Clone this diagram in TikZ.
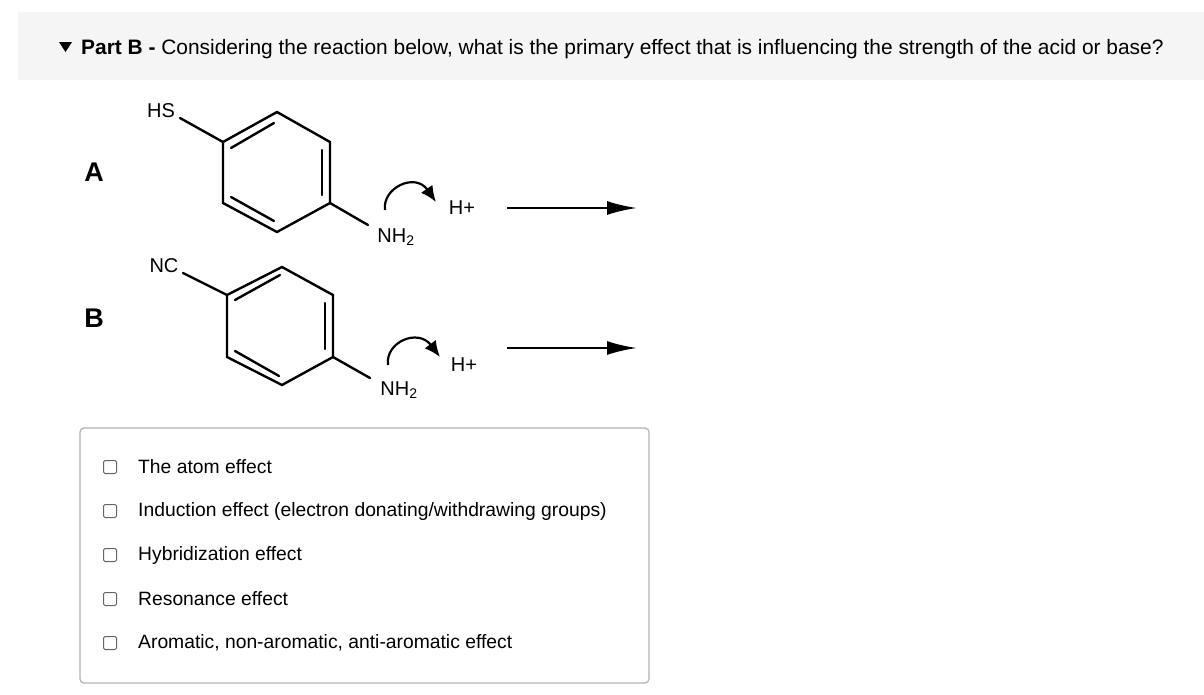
\documentclass[tikz,border=0pt]{standalone}
\usepackage{fontspec}
\setmainfont{Liberation Sans}
\usetikzlibrary{arrows.meta}
\begin{document}
\begin{tikzpicture}[x=1pt,y=-1pt,
  bond/.style={line width=2.4pt,line cap=round},
  lbl/.style={inner sep=0pt,font=\fontsize{20}{20}\selectfont},
  opt/.style={anchor=west,inner sep=0pt,font=\fontsize{19.3}{21}\selectfont},
  cbox/.style={draw=black!60,rounded corners=1.5pt,line width=1pt,minimum size=13pt,inner sep=0pt},
  rxn/.style={line width=2.4pt,-{Latex[length=30pt,width=14pt]}},
  curv/.style={line width=2.2pt,-{Latex[length=16pt,width=14pt]}}]
\useasboundingbox (0,0) rectangle (1204,694);
\fill[white] (0,0) rectangle (1204,694);
\fill[black!4] (18,12) rectangle (1204,80);
\fill (59,42) -- (72,42) -- (65.5,52) -- cycle;
\node[anchor=west,inner sep=0pt,font=\fontsize{20.9}{22}\selectfont] (hdr) at (81,49) {\textbf{Part B -} Considering the reaction below, what is the primary effect that is influencing the strength of the acid or base?};
\node[font=\fontsize{27}{27}\selectfont\bfseries,inner sep=0pt] (A) at (94,172) {A};
\node[font=\fontsize{27}{27}\selectfont\bfseries,inner sep=0pt] (B) at (94,318) {B};
% ring A
\coordinate (a1) at (277,112); \coordinate (a2) at (330,142); \coordinate (a3) at (330,203);
\coordinate (a4) at (277,232); \coordinate (a5) at (223,203); \coordinate (a6) at (223,142);
\draw[bond] (a1)--(a2)--(a3)--(a4)--(a5)--(a6)--cycle;
\draw[bond] (231,148) -- (274,123);
\draw[bond] (322,150) -- (322,195);
\draw[bond] (231,197) -- (274,221);
\draw[bond] (180,118) -- (a6);
\draw[bond] (a3) -- (368,225);
\node[lbl] (hs) at (161,111) {HS};
\node[lbl] (nha) at (396,237) {NH\textsubscript{2}};
\draw[curv] (385,210) .. controls (382,188) and (415,172) .. (436,202);
\node[lbl] (hpa) at (462,208) {H+};
\coordinate (ra1) at (507,208); \coordinate (ra2) at (637,208);
\draw[rxn] (ra1) -- (ra2);
% ring B
\coordinate (b1) at (282,267); \coordinate (b2) at (333,295); \coordinate (b3) at (333,357);
\coordinate (b4) at (282,385); \coordinate (b5) at (227,357); \coordinate (b6) at (227,295);
\draw[bond] (b1)--(b2)--(b3)--(b4)--(b5)--(b6)--cycle;
\draw[bond] (235,300) -- (280,275);
\draw[bond] (325,303) -- (325,349);
\draw[bond] (235,351) -- (279,376);
\draw[bond] (183,273) -- (b6);
\draw[bond] (b3) -- (370,378);
\node[lbl] (nc) at (164,266) {NC};
\node[lbl] (nhb) at (399,390) {NH\textsubscript{2}};
\draw[curv] (388,365) .. controls (385,342) and (418,328) .. (440,357);
\node[lbl] (hpb) at (464,365) {H+};
\coordinate (rb1) at (507,348); \coordinate (rb2) at (637,348);
\draw[rxn] (rb1) -- (rb2);
% options box
\draw[black!30,line width=1.2pt,rounded corners=4pt] (80,428) rectangle (649,683);
\foreach \y/\t/\n in {467/{The atom effect}/o1, 511/{Induction effect (electron donating/withdrawing groups)}/o2, 555/{Hybridization effect}/o3, 599/{Resonance effect}/o4, 643/{Aromatic, non-aromatic, anti-aromatic effect}/o5}{
  \node[cbox] (c\n) at (110,\y) {};
  \node[opt] (\n) at (138,\y) {\t};
}
\end{tikzpicture}
\end{document}
